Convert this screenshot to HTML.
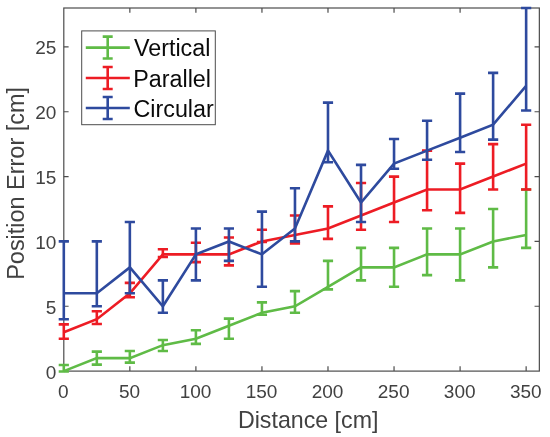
<!DOCTYPE html>
<html><head><meta charset="utf-8"><title>Position Error vs Distance</title>
<style>html,body{margin:0;padding:0;background:#fff}body{width:550px;height:437px;overflow:hidden}</style></head>
<body>
<svg width="550" height="437" viewBox="0 0 550 437" style="display:block">
<rect width="550" height="437" fill="#fff"/>
<g fill="none" stroke="#4c4c4c" stroke-width="1.2">
<rect x="63.8" y="8.0" width="475.55" height="363.10"/>
<path d="M129.85 371.1v-4.8M129.85 8.0v4.8M195.90 371.1v-4.8M195.90 8.0v4.8M261.95 371.1v-4.8M261.95 8.0v4.8M327.99 371.1v-4.8M327.99 8.0v4.8M394.04 371.1v-4.8M394.04 8.0v4.8M460.09 371.1v-4.8M460.09 8.0v4.8M526.14 371.1v-4.8M526.14 8.0v4.8M63.8 306.26h4.8M539.35 306.26h-4.8M63.8 241.42h4.8M539.35 241.42h-4.8M63.8 176.58h4.8M539.35 176.58h-4.8M63.8 111.74h4.8M539.35 111.74h-4.8M63.8 46.90h4.8M539.35 46.90h-4.8"/></g>
<g fill="none" stroke="#5fbb46" stroke-width="2.6" stroke-linejoin="miter"><path d="M63.80 371.49V365.01M58.70 371.49h10.20M58.70 365.01h10.20M96.82 364.62V351.65M91.72 364.62h10.20M91.72 351.65h10.20M129.85 362.67V351.00M124.75 362.67h10.20M124.75 351.00h10.20M162.87 351.00V339.98M157.77 351.00h10.20M157.77 339.98h10.20M195.90 343.87V330.25M190.80 343.87h10.20M190.80 330.25h10.20M228.92 338.68V318.58M223.82 338.68h10.20M223.82 318.58h10.20M261.95 314.69V302.37M256.85 314.69h10.20M256.85 302.37h10.20M294.97 312.74V291.09M289.87 312.74h10.20M289.87 291.09h10.20M327.99 289.40V260.87M322.89 289.40h10.20M322.89 260.87h10.20M361.02 280.33V247.91M355.92 280.33h10.20M355.92 247.91h10.20M394.04 286.81V247.91M388.94 286.81h10.20M388.94 247.91h10.20M427.07 275.14V228.45M421.97 275.14h10.20M421.97 228.45h10.20M460.09 280.33V228.45M454.99 280.33h10.20M454.99 228.45h10.20M493.12 267.36V209.00M488.02 267.36h10.20M488.02 209.00h10.20M526.14 247.91V189.55M521.04 247.91h10.20M521.04 189.55h10.20"/><polyline points="63.80,371.10 96.82,358.13 129.85,358.13 162.87,345.16 195.90,338.68 228.92,325.71 261.95,312.74 294.97,306.26 327.99,286.81 361.02,267.36 394.04,267.36 427.07,254.39 460.09,254.39 493.12,241.42 526.14,234.94"/></g>
<g fill="none" stroke="#ed1c24" stroke-width="2.6" stroke-linejoin="miter"><path d="M63.80 338.68V324.42M58.70 338.68h10.20M58.70 324.42h10.20M96.82 324.03V311.19M91.72 324.03h10.20M91.72 311.19h10.20M129.85 297.18V282.92M124.75 297.18h10.20M124.75 282.92h10.20M162.87 256.98V249.20M157.77 256.98h10.20M157.77 249.20h10.20M195.90 262.17V242.72M190.80 262.17h10.20M190.80 242.72h10.20M228.92 265.41V237.53M223.82 265.41h10.20M223.82 237.53h10.20M261.95 242.07V229.75M256.85 242.07h10.20M256.85 229.75h10.20M294.97 243.37V215.49M289.87 243.37h10.20M289.87 215.49h10.20M327.99 238.83V206.41M322.89 238.83h10.20M322.89 206.41h10.20M361.02 229.75V183.07M355.92 229.75h10.20M355.92 183.07h10.20M394.04 221.97V176.58M388.94 221.97h10.20M388.94 176.58h10.20M427.07 210.30V150.65M421.97 210.30h10.20M421.97 150.65h10.20M460.09 212.89V163.61M454.99 212.89h10.20M454.99 163.61h10.20M493.12 189.55V144.16M488.02 189.55h10.20M488.02 144.16h10.20M526.14 189.55V124.71M521.04 189.55h10.20M521.04 124.71h10.20"/><polyline points="63.80,332.20 96.82,319.23 129.85,293.29 162.87,254.39 195.90,254.39 228.92,254.39 261.95,241.42 294.97,234.94 327.99,228.45 361.02,215.49 394.04,202.52 427.07,189.55 460.09,189.55 493.12,176.58 526.14,163.61"/></g>
<g fill="none" stroke="#2e4a9e" stroke-width="2.6" stroke-linejoin="miter"><path d="M63.80 319.23V241.42M58.70 319.23h10.20M58.70 241.42h10.20M96.82 306.26V241.42M91.72 306.26h10.20M91.72 241.42h10.20M129.85 293.29V221.97M124.75 293.29h10.20M124.75 221.97h10.20M162.87 312.74V280.33M157.77 312.74h10.20M157.77 280.33h10.20M195.90 280.33V228.45M190.80 280.33h10.20M190.80 228.45h10.20M228.92 260.87V228.45M223.82 260.87h10.20M223.82 228.45h10.20M261.95 286.81V211.60M256.85 286.81h10.20M256.85 211.60h10.20M294.97 241.42V188.25M289.87 241.42h10.20M289.87 188.25h10.20M327.99 162.32V102.67M322.89 162.32h10.20M322.89 102.67h10.20M361.02 221.97V164.91M355.92 221.97h10.20M355.92 164.91h10.20M394.04 168.80V138.98M388.94 168.80h10.20M388.94 138.98h10.20M427.07 159.72V120.82M421.97 159.72h10.20M421.97 120.82h10.20M460.09 151.94V93.59M454.99 151.94h10.20M454.99 93.59h10.20M493.12 139.62V72.84M488.02 139.62h10.20M488.02 72.84h10.20M526.14 110.45V8.00M521.04 110.45h10.20M521.04 8.00h10.20"/><polyline points="63.80,293.29 96.82,293.29 129.85,267.36 162.87,306.26 195.90,254.39 228.92,241.42 261.95,254.39 294.97,228.45 327.99,150.65 361.02,202.52 394.04,163.61 427.07,150.65 460.09,137.68 493.12,124.71 526.14,85.81"/></g>
<g font-family="Liberation Sans, Arial, Helvetica, sans-serif" fill="#414141" font-size="19">
<text x="63.40" y="397.7" text-anchor="middle">0</text>
<text x="129.45" y="397.7" text-anchor="middle">50</text>
<text x="195.50" y="397.7" text-anchor="middle">100</text>
<text x="261.55" y="397.7" text-anchor="middle">150</text>
<text x="327.59" y="397.7" text-anchor="middle">200</text>
<text x="393.64" y="397.7" text-anchor="middle">250</text>
<text x="459.69" y="397.7" text-anchor="middle">300</text>
<text x="525.74" y="397.7" text-anchor="middle">350</text>
<text x="56.4" y="378.60" text-anchor="end">0</text>
<text x="56.4" y="313.76" text-anchor="end">5</text>
<text x="56.4" y="248.92" text-anchor="end">10</text>
<text x="56.4" y="184.08" text-anchor="end">15</text>
<text x="56.4" y="119.24" text-anchor="end">20</text>
<text x="56.4" y="54.40" text-anchor="end">25</text>
</g>
<g font-family="Liberation Sans, Arial, Helvetica, sans-serif" fill="#414141" font-size="23.2">
<text x="308.18" y="427.6" text-anchor="middle">Distance [cm]</text>
<text transform="translate(24.2 183.4) rotate(-90)" text-anchor="middle" font-size="23.45">Position Error [cm]</text>
</g>
<rect x="81.7" y="30.9" width="133.6" height="93.8" fill="#fff" stroke="#4c4c4c" stroke-width="1"/>
<path d="M85.8 47.6H129.8M107.7 36.650000000000006V58.55M102.7 36.650000000000006h10M102.7 58.55h10" fill="none" stroke="#5fbb46" stroke-width="2.6"/>
<text x="134.0" y="56.35" font-family="Liberation Sans, Arial, Helvetica, sans-serif" font-size="23.3" fill="#0a0a0a">Vertical</text>
<path d="M85.8 78.0H129.8M107.7 67.05V88.95M102.7 67.05h10M102.7 88.95h10" fill="none" stroke="#ed1c24" stroke-width="2.6"/>
<text x="133.3" y="86.5" font-family="Liberation Sans, Arial, Helvetica, sans-serif" font-size="23.3" fill="#0a0a0a">Parallel</text>
<path d="M85.8 108.0H129.8M107.7 97.05V118.95M102.7 97.05h10M102.7 118.95h10" fill="none" stroke="#2e4a9e" stroke-width="2.6"/>
<text x="133.5" y="116.6" font-family="Liberation Sans, Arial, Helvetica, sans-serif" font-size="23.3" fill="#0a0a0a">Circular</text>
</svg>
</body></html>
